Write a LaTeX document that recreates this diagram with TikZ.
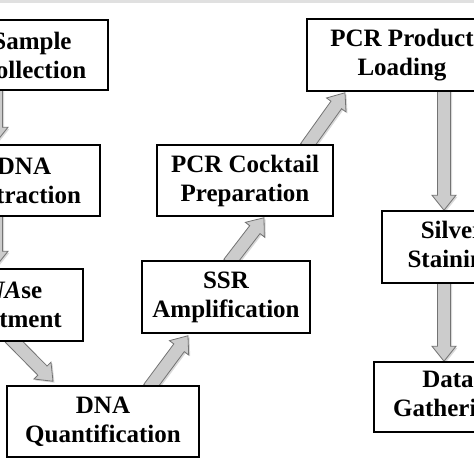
\documentclass[tikz,border=0pt]{standalone}
\usepackage{fontspec}
\setmainfont{Liberation Serif}
\usetikzlibrary{calc,shadows}
\pgfdeclarelayer{background}
\pgfsetlayers{background,main}
\tikzset{
  box/.style={draw=black, line width=1.5pt, fill=white, inner sep=0pt,
    align=center, font=\fontsize{25}{29}\selectfont\bfseries},
  blockarr/.style={fill=black!20, draw=black!55, line width=0.8pt, line join=miter,
    drop shadow={shadow xshift=1.5pt, shadow yshift=-1.5pt, opacity=0.3}}
}
\newcommand\blockarrow[2]{%
  \coordinate (ba-h) at ($(#2)!15pt!(#1)$);
  \path[blockarr] ($(#1)!6.5pt!90:(#2)$) -- ($(ba-h)!6.5pt!90:(#2)$)
    -- ($(ba-h)!12pt!90:(#2)$) -- (#2) -- ($(ba-h)!12pt!-90:(#2)$)
    -- ($(ba-h)!6.5pt!-90:(#2)$) -- ($(#1)!6.5pt!-90:(#2)$) -- cycle;
}
\begin{document}
\begin{tikzpicture}[x=1pt,y=-1pt]
\useasboundingbox (0,0) rectangle (474,474);
\clip (0,0) rectangle (474,474);
\fill[black!12] (0,0) rectangle (474,3);

\node[box, minimum width=152pt, minimum height=70pt] (b1) at (32,55) {Sample\\Collection};
\node[box, minimum width=152pt, minimum height=71pt] (b2) at (24,180.5) {DNA\\Extraction};
\node[box, minimum width=154pt, minimum height=72pt] (b3) at (6,305) {\textit{RNA}se\\Treatment};
\node[box, minimum width=192pt, minimum height=71pt] (b4) at (103,421.5) {DNA\\Quantification};
\node[box, minimum width=168pt, minimum height=72pt] (b5) at (226,297) {SSR\\Amplification};
\node[box, minimum width=176pt, minimum height=71pt] (b6) at (245,180.5) {PCR Cocktail\\Preparation};
\node[box, minimum width=190pt, minimum height=72pt] (b7) at (402,55) {PCR Product\\Loading};
\node[box, minimum width=140pt, minimum height=72pt] (b8) at (452,247) {Silver\\Staining};
\node[box, minimum width=148pt, minimum height=70pt] (b9) at (448,397) {Data\\Gathering};

\coordinate (s1) at ($(b1.south)+(-36,-2)$);
\coordinate (t1) at ($(b2.north)+(-28,-2)$);
\coordinate (s2) at ($(b2.south)+(-28,-2)$);
\coordinate (t2) at ($(b3.north)+(-10,-2)$);
\coordinate (s3) at ($(b3.south)+(4,-4)$);
\coordinate (t3) at ($(b4.north)+(-50,-4)$);
\coordinate (s4) at ($(b4.north)+(46,3)$);
\coordinate (t4) at ($(b5.south)+(-38,2)$);
\coordinate (s5) at ($(b5.north)+(3,3)$);
\coordinate (t5) at ($(b6.south)+(19,1)$);
\coordinate (s6) at ($(b6.north)+(61,3)$);
\coordinate (t6) at ($(b7.south)+(-57,1)$);
\coordinate (s7) at ($(b7.south)+(42,-2)$);
\coordinate (t7) at ($(b8.north)+(-8,0)$);
\coordinate (s8) at ($(b8.south)+(-8,-2)$);
\coordinate (t8) at ($(b9.north)+(-4,0)$);

\begin{pgfonlayer}{background}
\blockarrow{s1}{t1}
\blockarrow{s2}{t2}
\blockarrow{s3}{t3}
\blockarrow{s4}{t4}
\blockarrow{s5}{t5}
\blockarrow{s6}{t6}
\blockarrow{s7}{t7}
\blockarrow{s8}{t8}
\end{pgfonlayer}
\end{tikzpicture}
\end{document}
